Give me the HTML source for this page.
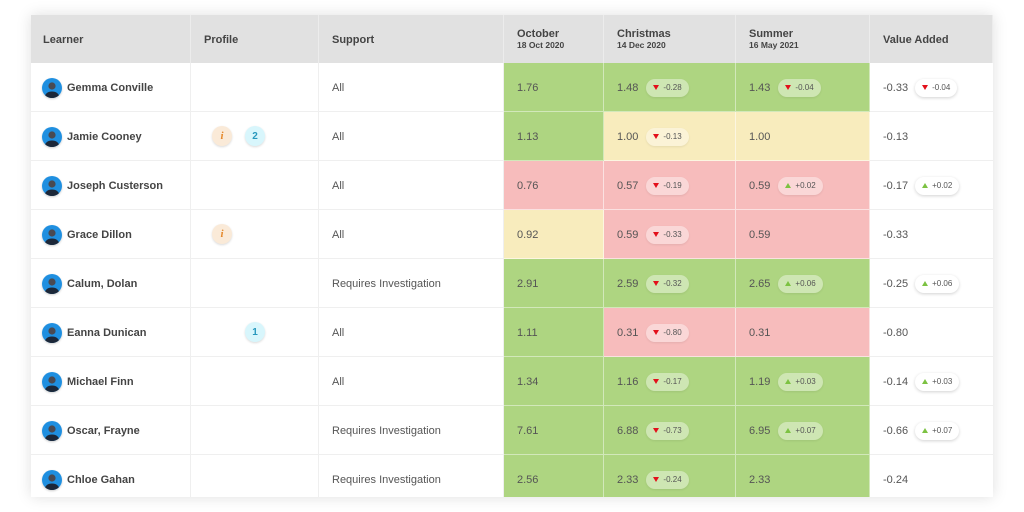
<!DOCTYPE html>
<html><head><meta charset="utf-8">
<style>
*{margin:0;padding:0;box-sizing:border-box}
html,body{width:1024px;height:512px;background:#fff;overflow:hidden;font-family:"Liberation Sans",Arial,sans-serif}
.wrap{position:absolute;left:31px;top:15px;width:962px;height:482px;overflow:hidden;box-shadow:0 0 14px rgba(0,0,0,0.13);background:#fff}
.row{display:flex;height:49px}
.hdr{height:48px;background:#e1e1e1}
.c{position:relative;height:100%;border-right:1px solid #efefef;border-bottom:1px solid #efefef;display:flex;align-items:center;padding-left:12px;padding-top:2px;font-size:11px;color:#555}
.hdr .c{border-right:1px solid #ececec;border-bottom:none;color:#444;font-weight:bold;padding-left:12px;padding-top:2px}
.hdr .c.two{padding-top:0}
.hdr .c .t{display:block;line-height:13px}
.hdr .c .d{display:block;font-size:8.5px;line-height:11px;margin-top:-1px}
.w1{width:160px}.w2{width:128px}.w3{width:185px}.w4{width:100px}.w5{width:132px}.w6{width:134px}.w7{width:123px;border-right:none}
.hdr .w2,.hdr .w3,.hdr .w4,.hdr .w5,.hdr .w6,.hdr .w7{padding-left:13px}
.w3,.w4,.w5,.w6,.w7{padding-left:13px}
.g{background:#aed581;border-color:rgba(255,255,255,0.45)}
.y{background:#f8ecbd;border-color:rgba(255,255,255,0.55)}
.p{background:#f7bcbc;border-color:rgba(255,255,255,0.55)}
.w1{padding-left:11px}
.av{width:20px;height:20px;border-radius:50%;overflow:hidden;flex:none;box-shadow:0 1px 2px rgba(0,0,0,0.2);margin-top:-1px}
.nm{font-weight:bold;color:#444;margin-left:5px;font-size:11px}
.bd{display:inline-flex;align-items:center;height:18px;border-radius:9px;padding:0 7px;margin-left:8px;margin-top:-1px;font-size:8px;color:#555;background:rgba(255,255,255,0.4);box-shadow:0 1px 2px rgba(0,0,0,0.08)}
.w7 .bd{background:#fff;box-shadow:0 1px 3px rgba(0,0,0,0.18);margin-left:7px}
.dn{width:0;height:0;border-left:3px solid transparent;border-right:3px solid transparent;border-top:5px solid #e3101b;margin-right:4px}
.up{width:0;height:0;border-left:3px solid transparent;border-right:3px solid transparent;border-bottom:5px solid #7cc242;margin-right:4px}
.pi{position:absolute;top:14px;width:20px;height:20px;border-radius:50%;display:flex;align-items:center;justify-content:center;font-weight:bold;font-size:10px;box-shadow:0 1px 2px rgba(0,0,0,0.15)}
.pi.i{left:21px;background:#faead8;color:#e5892c;font-style:italic;font-family:"Liberation Serif",serif;font-size:11px}
.pi.n{left:54px;background:#d8f6fc;color:#2798bd}
</style></head><body>
<div class="wrap">
<div class="row hdr">
<div class="c w1"><span class="t">Learner</span></div>
<div class="c w2"><span class="t">Profile</span></div>
<div class="c w3"><span class="t">Support</span></div>
<div class="c w4 two"><div><span class="t">October</span><span class="d">18 Oct 2020</span></div></div>
<div class="c w5 two"><div><span class="t">Christmas</span><span class="d">14 Dec 2020</span></div></div>
<div class="c w6 two"><div><span class="t">Summer</span><span class="d">16 May 2021</span></div></div>
<div class="c w7"><span class="t">Value Added</span></div>
</div>

<div class="row">
<div class="c w1"><div class="av"><svg width="20" height="20" viewBox="0 0 20 20"><rect width="20" height="20" fill="#1f8fe0"/><circle cx="10" cy="8" r="3.6" fill="#4a4a52"/><path d="M2 21 Q3 13.5 10 13.5 Q17 13.5 18 21Z" fill="#1c2738"/></svg></div><span class="nm">Gemma Conville</span></div>
<div class="c w2"></div>
<div class="c w3">All</div>
<div class="c w4 g">1.76</div>
<div class="c w5 g">1.48<span class="bd"><i class="dn"></i>-0.28</span></div>
<div class="c w6 g">1.43<span class="bd"><i class="dn"></i>-0.04</span></div>
<div class="c w7">-0.33<span class="bd"><i class="dn"></i>-0.04</span></div>
</div>

<div class="row">
<div class="c w1"><div class="av"><svg width="20" height="20" viewBox="0 0 20 20"><rect width="20" height="20" fill="#1f8fe0"/><circle cx="10" cy="8" r="3.6" fill="#4a4a52"/><path d="M2 21 Q3 13.5 10 13.5 Q17 13.5 18 21Z" fill="#1c2738"/></svg></div><span class="nm">Jamie Cooney</span></div>
<div class="c w2"><span class="pi i">i</span><span class="pi n">2</span></div>
<div class="c w3">All</div>
<div class="c w4 g">1.13</div>
<div class="c w5 y">1.00<span class="bd"><i class="dn"></i>-0.13</span></div>
<div class="c w6 y">1.00</div>
<div class="c w7">-0.13</div>
</div>

<div class="row">
<div class="c w1"><div class="av"><svg width="20" height="20" viewBox="0 0 20 20"><rect width="20" height="20" fill="#1f8fe0"/><circle cx="10" cy="8" r="3.6" fill="#4a4a52"/><path d="M2 21 Q3 13.5 10 13.5 Q17 13.5 18 21Z" fill="#1c2738"/></svg></div><span class="nm">Joseph Custerson</span></div>
<div class="c w2"></div>
<div class="c w3">All</div>
<div class="c w4 p">0.76</div>
<div class="c w5 p">0.57<span class="bd"><i class="dn"></i>-0.19</span></div>
<div class="c w6 p">0.59<span class="bd"><i class="up"></i>+0.02</span></div>
<div class="c w7">-0.17<span class="bd"><i class="up"></i>+0.02</span></div>
</div>

<div class="row">
<div class="c w1"><div class="av"><svg width="20" height="20" viewBox="0 0 20 20"><rect width="20" height="20" fill="#1f8fe0"/><circle cx="10" cy="8" r="3.6" fill="#4a4a52"/><path d="M2 21 Q3 13.5 10 13.5 Q17 13.5 18 21Z" fill="#1c2738"/></svg></div><span class="nm">Grace Dillon</span></div>
<div class="c w2"><span class="pi i">i</span></div>
<div class="c w3">All</div>
<div class="c w4 y">0.92</div>
<div class="c w5 p">0.59<span class="bd"><i class="dn"></i>-0.33</span></div>
<div class="c w6 p">0.59</div>
<div class="c w7">-0.33</div>
</div>

<div class="row">
<div class="c w1"><div class="av"><svg width="20" height="20" viewBox="0 0 20 20"><rect width="20" height="20" fill="#1f8fe0"/><circle cx="10" cy="8" r="3.6" fill="#4a4a52"/><path d="M2 21 Q3 13.5 10 13.5 Q17 13.5 18 21Z" fill="#1c2738"/></svg></div><span class="nm">Calum, Dolan</span></div>
<div class="c w2"></div>
<div class="c w3">Requires Investigation</div>
<div class="c w4 g">2.91</div>
<div class="c w5 g">2.59<span class="bd"><i class="dn"></i>-0.32</span></div>
<div class="c w6 g">2.65<span class="bd"><i class="up"></i>+0.06</span></div>
<div class="c w7">-0.25<span class="bd"><i class="up"></i>+0.06</span></div>
</div>

<div class="row">
<div class="c w1"><div class="av"><svg width="20" height="20" viewBox="0 0 20 20"><rect width="20" height="20" fill="#1f8fe0"/><circle cx="10" cy="8" r="3.6" fill="#4a4a52"/><path d="M2 21 Q3 13.5 10 13.5 Q17 13.5 18 21Z" fill="#1c2738"/></svg></div><span class="nm">Eanna Dunican</span></div>
<div class="c w2"><span class="pi n">1</span></div>
<div class="c w3">All</div>
<div class="c w4 g">1.11</div>
<div class="c w5 p">0.31<span class="bd"><i class="dn"></i>-0.80</span></div>
<div class="c w6 p">0.31</div>
<div class="c w7">-0.80</div>
</div>

<div class="row">
<div class="c w1"><div class="av"><svg width="20" height="20" viewBox="0 0 20 20"><rect width="20" height="20" fill="#1f8fe0"/><circle cx="10" cy="8" r="3.6" fill="#4a4a52"/><path d="M2 21 Q3 13.5 10 13.5 Q17 13.5 18 21Z" fill="#1c2738"/></svg></div><span class="nm">Michael Finn</span></div>
<div class="c w2"></div>
<div class="c w3">All</div>
<div class="c w4 g">1.34</div>
<div class="c w5 g">1.16<span class="bd"><i class="dn"></i>-0.17</span></div>
<div class="c w6 g">1.19<span class="bd"><i class="up"></i>+0.03</span></div>
<div class="c w7">-0.14<span class="bd"><i class="up"></i>+0.03</span></div>
</div>

<div class="row">
<div class="c w1"><div class="av"><svg width="20" height="20" viewBox="0 0 20 20"><rect width="20" height="20" fill="#1f8fe0"/><circle cx="10" cy="8" r="3.6" fill="#4a4a52"/><path d="M2 21 Q3 13.5 10 13.5 Q17 13.5 18 21Z" fill="#1c2738"/></svg></div><span class="nm">Oscar, Frayne</span></div>
<div class="c w2"></div>
<div class="c w3">Requires Investigation</div>
<div class="c w4 g">7.61</div>
<div class="c w5 g">6.88<span class="bd"><i class="dn"></i>-0.73</span></div>
<div class="c w6 g">6.95<span class="bd"><i class="up"></i>+0.07</span></div>
<div class="c w7">-0.66<span class="bd"><i class="up"></i>+0.07</span></div>
</div>

<div class="row">
<div class="c w1"><div class="av"><svg width="20" height="20" viewBox="0 0 20 20"><rect width="20" height="20" fill="#1f8fe0"/><circle cx="10" cy="8" r="3.6" fill="#4a4a52"/><path d="M2 21 Q3 13.5 10 13.5 Q17 13.5 18 21Z" fill="#1c2738"/></svg></div><span class="nm">Chloe Gahan</span></div>
<div class="c w2"></div>
<div class="c w3">Requires Investigation</div>
<div class="c w4 g">2.56</div>
<div class="c w5 g">2.33<span class="bd"><i class="dn"></i>-0.24</span></div>
<div class="c w6 g">2.33</div>
<div class="c w7">-0.24</div>
</div>
</div>
</body></html>
